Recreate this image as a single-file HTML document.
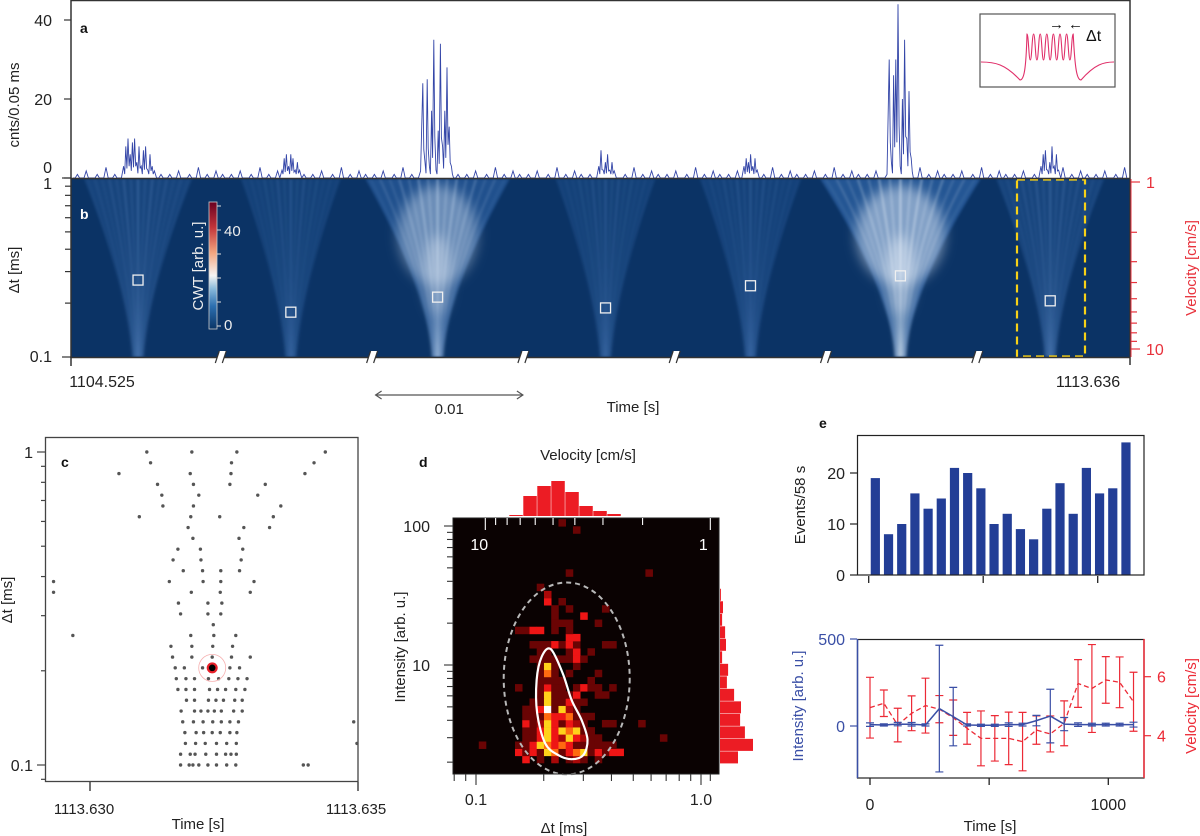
<!DOCTYPE html>
<html><head><meta charset="utf-8">
<style>
html,body{margin:0;padding:0;background:#fff;}
svg{display:block;font-family:"Liberation Sans",Arial,sans-serif;}
</style></head>
<body>
<svg id="fig" width="1200" height="836" viewBox="0 0 1200 836" xmlns="http://www.w3.org/2000/svg">
<defs>
  <linearGradient id="cbar" x1="0" y1="1" x2="0" y2="0">
    <stop offset="0" stop-color="#0b3566"/>
    <stop offset="0.18" stop-color="#2c6fb0"/>
    <stop offset="0.32" stop-color="#8cbcdc"/>
    <stop offset="0.42" stop-color="#f4f4f4"/>
    <stop offset="0.6" stop-color="#f3a57f"/>
    <stop offset="0.8" stop-color="#c2353a"/>
    <stop offset="1" stop-color="#6a0020"/>
  </linearGradient>
  <filter id="blur1" x="-20%" y="-20%" width="140%" height="140%"><feGaussianBlur stdDeviation="1.4"/></filter>
  <filter id="blur3" x="-50%" y="-50%" width="200%" height="200%"><feGaussianBlur stdDeviation="6"/></filter>
  <clipPath id="clipB"><rect x="71" y="179" width="1059" height="178"/></clipPath>
  <clipPath id="clipA"><rect x="71" y="0" width="1059" height="179"/></clipPath>
</defs>
<g id="panelA"></g>
<g id="panelB"></g>
<g id="panelC"></g>
<g id="panelD"></g>
<g id="panelE"></g>
</svg>
<script>
// ---------- data: panels a/b ----------
const segWidthS = 0.01;
const evOffsetS = [0.00443,0.00453,0.00423,0.00533,0.00491,0.00482,0.00472];
const evPeakDt = [0.269,0.178,0.216,0.188,0.250,0.284,0.206];
const evStrength = [0.30,0.20,0.75,0.20,0.22,0.95,0.30];
const ev1Counts = [3,8,10,6,9,10,4,8,3,7,8,2,6,3];
const ev2Counts = [2,5,6,3,6,5,2,4,2];
const ev3Counts = [24,4,25,3,17,35,2,12,34,8,17,28,10,13,3];
const ev4Counts = [3,7,2,4,6,5,2,4];
const ev5Counts = [3,5,2,4,6,3,5,2];
const ev6Counts = [30,4,26,30,44,3,20,35,25,10,22,5];
const ev7Counts = [3,6,7,2,4,8,3,6,2];
const noiseCounts = [0,0,1,0,0,0,2,0,0,0,0,1,0,0,0,3,0,0,0,1,0,0,0,2,0,0,1,0];
const aTicks = [0,20,40];
const bTicks = [0.1,1];
const velTicks = [1,10];
const cbTicks = [0,40];

// ---------- data: panel c ----------
const cRowsDt = [];
const cRowTimesUs = [
 [1060,1900,2740,4390],
 [1130,2640,4180],
 [540,1870,2630,4010],
 [1260,1930,2610,3270],
 [1340,2030,3130],
 [1360,1930,3560],
 [920,1880,2420,3420],
 [1830,2870,3350],
 [1920,2780],
 [1640,2060,2850],
 [1550,2070,2820],
 [1740,2100,2440,2790],
 [-680,1480,2110,2440,3060],
 [-680,1890,2430,2990],
 [1650,2200,2460],
 [1690,2200,2440],
 [2300],
 [-320,1880,2310,2720],
 [1510,1900,2290,2660],
 [1540,1900,2280,2640,2990],
 [1590,1760,2100,2610,2790],
 [1610,1790,1950,2210,2400,2590,2760,2930],
 [1640,1790,1950,2230,2380,2530,2720,2890],
 [1800,1950,2210,2350,2490,2700,2840],
 [1700,1950,2070,2200,2320,2450,2680,2840],
 [1730,1930,2110,2290,2450,2610,2770,4920],
 [1770,1980,2120,2280,2430,2610,2740],
 [1780,1970,2150,2360,2550,2730,4980],
 [1690,1870,1960,2160,2360,2530,2630,2730],
 [1690,1850,1920,2030,2200,2360,2550,2720,3980,4070]
];
const cHighlightRow = 20, cHighlightUs = 2280;
const cXTicks = ["1113.630","1113.635"];

// ---------- data: panel d ----------
const dHeatRows = [
 "030102012101000",
 "313154134513133",
 "113543431111110",
 "011353253211000",
 "011353545110000",
 "031253132100110",
 "011143341110000",
 "011361521000000",
 "001151131100000",
 "000151113001100",
 "100131101311010",
 "000111100010000",
 "000141010001000",
 "000151001000000",
 "001111113100000",
 "000110013010000",
 "001113131000110",
 "000000033000000",
 "113301010000000",
 "000001110001000",
 "000001000300000",
 "000001010000100",
 "000030100000000",
 "000020000000000",
 "000100000000000"
];
const dOutliers = [[-5,2,1],[20,3,1],[17,5,1],[18,26,1],[7,26,1],[6,33,1],[8,32,1]];
const dTopHist = [1,20,30,35,24,10,5,2];
const dRightHist = [6,11,8.3,6.7,7,4.7,2.3,2.7,0.7,2,1.7,0.7,1,0.3];
const dContourDt = [0.215,0.243,0.266,0.295,0.313,0.300,0.266,0.232,0.203,0.187,0.186,0.196];
const dContourI = [13.0,8.7,5.6,4.0,2.9,2.25,2.10,2.25,2.73,4.5,7.8,11.5];
const dEllipse = {dt:0.253, I:8.0};
const dYTicks = [10,100];
const dXTicks = [0.1,1.0];
const dVelTicks = [10,1];

// ---------- data: panel e ----------
const eBarCounts = [19,8,10,16,13,15,21,20,17,10,12,9,7,13,18,12,21,16,17,26];
const eIntensity = [8,6,11,10,6,100,54,6,4,4,8,8,31,57,11,8,8,8,8,8];
const eIntensityErr = [10,6,10,10,6,364,168,6,6,6,10,8,30,154,38,10,8,8,8,14];
const eVelocity = [4.95,5.10,4.36,4.76,5.02,4.90,4.61,4.25,3.91,3.91,3.91,3.80,4.19,4.06,4.42,5.77,5.60,5.89,5.81,5.15];
const eVelocityErr = [1.03,0.45,0.57,0.59,0.93,0.46,0.60,0.54,0.93,0.77,0.89,0.99,0.48,0.61,0.76,0.81,1.49,0.79,0.86,1.00];
const eBarTicks = [0,500,1000];
const eXTicks = [0,1000];
const eYTicks = [0,10,20];

// ---------- helpers ----------
const NS="http://www.w3.org/2000/svg";
function mk(parent,tag,attrs,text){
  const e=document.createElementNS(NS,tag);
  for(const k in attrs) e.setAttribute(k,attrs[k]);
  if(text!==undefined) e.textContent=text;
  parent.appendChild(e); return e;
}
const L=Math.log10;

// ================= PANEL A =================
const gA=document.getElementById('panelA');
const segX0=71, segPx=151.3;
function xAB(seg,offS){return segX0+seg*segPx+offS/segWidthS*segPx;}
function ya(v){return 178-v*3.95;}
let el;
el=mk(gA,'line',{x1:71,y1:0,x2:71,y2:179,stroke:'#333','stroke-width':1.5});

el=mk(gA,'line',{x1:71,y1:0.5,x2:1130,y2:0.5,stroke:'#333','stroke-width':1.5});

el=mk(gA,'line',{x1:1130,y1:0,x2:1130,y2:179,stroke:'#333','stroke-width':1.5});

aTicks.forEach(t=>{
  const y=ya(t);
  el=mk(gA,'line',{x1:64,y1:y,x2:71,y2:y,stroke:'#333','stroke-width':1.2});
  
  el=mk(gA,'text',{x:52,y:(t===0?y-5:y+6),'font-size':16,'text-anchor':'end',fill:'#222'},String(t));
  
});
el=mk(gA,'text',{x:0,y:0,'font-size':15,'text-anchor':'middle',fill:'#222',transform:'translate(19,105) rotate(-90)'},'cnts/0.05 ms');

el=mk(gA,'text',{x:80,y:33,'font-size':14,'font-weight':'bold',fill:'#111'},'a');

const evCounts=[ev1Counts,ev2Counts,ev3Counts,ev4Counts,ev5Counts,ev6Counts,ev7Counts];
let pts=[];
let ni=0;
for(let x=73;x<1128;x+=2.2){
  let inEv=false;
  for(let i=0;i<7;i++){
    const cx=xAB(i,evOffsetS[i]);
    const arr=evCounts[i];
    const w=arr.length*2.1;
    const x0=cx-w/2;
    if(x>=x0 && x<x0+w){
      const k=Math.floor((x-x0)/2.1);
      pts.push([x,ya(arr[k])]);
      pts.push([x+1.05,ya(Math.max(1,arr[k]*0.3))]);
      inEv=true;break;
    }
  }
  if(!inEv){ pts.push([x,ya(noiseCounts[ni%noiseCounts.length]*0.9)]); ni++; }
}
el=mk(gA,'polyline',{points:pts.map(p=>p[0].toFixed(1)+','+p[1].toFixed(1)).join(' '),fill:'none',stroke:'#3446a8','stroke-width':0.9,'clip-path':'url(#clipA)'});

const inset=mk(gA,'g',{});

mk(inset,'rect',{x:980,y:14,width:135,height:73,fill:'#fff',stroke:'#555','stroke-width':1.2});
let ip='M981,62 C995,62 1005,64 1020,80 C1024,80 1026,70 1027,34';
for(let k=0;k<7;k++){const x=1027+k*6.6; ip+=` C${x+1.5},34 ${x+1.8},60 ${x+3.3},60 C${x+4.8},60 ${x+5.1},34 ${x+6.6},34`;}
ip+=' C1075,70 1077,80 1081,80 C1095,64 1104,62 1114,62';
mk(inset,'path',{d:ip,fill:'none',stroke:'#e0306a','stroke-width':1.1});
mk(inset,'text',{x:1049,y:29,'font-size':15,fill:'#111'},'→');
mk(inset,'text',{x:1068,y:29,'font-size':15,fill:'#111'},'←');
el=mk(inset,'text',{x:1086,y:41,'font-size':16,fill:'#111'},'Δt');


// ================= PANEL B =================
const gB=document.getElementById('panelB');
function yb(dt){return 357-(L(dt)+1)*179;}
function yv(v){return 182+L(v)*167;}
el=mk(gB,'rect',{x:71,y:179,width:1059,height:178,fill:'#0b3365'});

const fans=mk(gB,'g',{'clip-path':'url(#clipB)'});

for(let i=0;i<7;i++){
  const cx=xAB(i,evOffsetS[i]);
  const s=evStrength[i];
  const W=42+40*s;
  const g=mk(fans,'g',{});
  
  mk(g,'path',{d:`M${cx-W},179 Q${cx-10},290 ${cx-5},357 L${cx+5},357 Q${cx+10},290 ${cx+W},179 Z`,fill:`rgba(60,120,195,${0.12+0.4*s})`,filter:'url(#blur1)'});
  const bl=mk(g,'g',{filter:'url(#blur1)'});
  for(let k=-7;k<=7;k++){
    const xb=cx+k*0.9, xt=cx+k*W/7.5;
    const a=(0.10+0.5*s)*(1-Math.abs(k)/9)*(k%2===0?1:0.6);
    mk(bl,'path',{d:`M${xb},357 Q${cx+k*1.6},${300-20*s} ${xt},179`,fill:'none',stroke:`rgba(${110+140*s},${170+85*s},255,${a})`,'stroke-width':1.8});
  }
  if(s>0.5){
    mk(g,'ellipse',{cx:cx,cy:235,rx:W*0.55,ry:50,fill:`rgba(235,245,255,${0.5*s})`,filter:'url(#blur3)'});
    mk(g,'ellipse',{cx:cx,cy:275,rx:14,ry:40,fill:`rgba(245,250,255,${0.45*s})`,filter:'url(#blur3)'});
  }
  el=mk(gB,'rect',{x:xAB(i,evOffsetS[i])-5,y:yb(evPeakDt[i])-5,width:10,height:10,fill:'none',stroke:'#f0f0f0','stroke-width':1.3});
  
}
el=mk(gB,'rect',{x:1017,y:179.5,width:68,height:177,fill:'none',stroke:'#f7d117','stroke-width':2.2,'stroke-dasharray':'8,5'});

el=mk(gB,'line',{x1:71,y1:178.5,x2:1130,y2:178.5,stroke:'#333','stroke-width':1.5});

el=mk(gB,'line',{x1:71,y1:179,x2:71,y2:358,stroke:'#333','stroke-width':1.5});

el=mk(gB,'line',{x1:71,y1:357.5,x2:1130,y2:357.5,stroke:'#333','stroke-width':1.5});

for(let d=1;d<=10;d++){
  const v=d/10, y=yb(v);
  const major=(d===1||d===10);
  el=mk(gB,'line',{x1:major?62:65,y1:y,x2:71,y2:y,stroke:'#333','stroke-width':1.2});
  
}
bTicks.forEach(t=>{
  el=mk(gB,'text',{x:52,y:yb(t)+(t===1?11:5),'font-size':16,'text-anchor':'end',fill:'#222'},String(t));
  
});
el=mk(gB,'text',{x:0,y:0,'font-size':15,'text-anchor':'middle',fill:'#222',transform:'translate(19,270) rotate(-90)'},'Δt [ms]');

el=mk(gB,'text',{x:80,y:219,'font-size':14,'font-weight':'bold',fill:'#fff'},'b');

el=mk(gB,'line',{x1:1130,y1:179,x2:1130,y2:365,stroke:'#333','stroke-width':1.5});

for(let v=1;v<=10;v++){
  const y=yv(v);
  el=mk(gB,'line',{x1:1131,y1:y,x2:(v===1||v===10)?1140:1137,y2:y,stroke:'#e8323c','stroke-width':1.2});
  
}
el=mk(gB,'line',{x1:1131,y1:179,x2:1131,y2:357,stroke:'#e8323c','stroke-width':1});

velTicks.forEach(v=>{
  el=mk(gB,'text',{x:1146,y:yv(v)+6,'font-size':16,fill:'#e8323c'},String(v));
  
});
el=mk(gB,'text',{x:0,y:0,'font-size':15,'text-anchor':'middle',fill:'#e8323c',transform:'translate(1196,268) rotate(-90)'},'Velocity [cm/s]');

for(let i=1;i<7;i++){
  const x=segX0+i*segPx;
  const g=mk(gB,'g',{});
  
  mk(g,'polygon',{points:`${x-7},363 ${x-3},351 ${x+4},351 ${x},363`,fill:'#fff'});
  mk(g,'line',{x1:x-7,y1:363,x2:x-3,y2:351,stroke:'#333','stroke-width':1.2});
  mk(g,'line',{x1:x,y1:363,x2:x+4,y2:351,stroke:'#333','stroke-width':1.2});
}
el=mk(gB,'line',{x1:71,y1:357,x2:71,y2:366,stroke:'#333','stroke-width':1.5});

el=mk(gB,'text',{x:102,y:387,'font-size':16,'text-anchor':'middle',fill:'#222'},'1104.525');

el=mk(gB,'text',{x:1088,y:387,'font-size':16,'text-anchor':'middle',fill:'#222'},'1113.636');

const scaleBar=mk(gB,'g',{});

const sx0=segX0+2*segPx, sx1=segX0+3*segPx;
mk(scaleBar,'line',{x1:sx0+2,y1:395,x2:sx1-2,y2:395,stroke:'#555','stroke-width':1.2});
mk(scaleBar,'path',{d:`M${sx0+8},391 L${sx0+2},395 L${sx0+8},399 M${sx1-8},391 L${sx1-2},395 L${sx1-8},399`,fill:'none',stroke:'#555','stroke-width':1.2});
mk(scaleBar,'text',{x:(sx0+sx1)/2,y:414,'font-size':15,'text-anchor':'middle',fill:'#222'},'0.01');
el=mk(gB,'text',{x:633,y:412,'font-size':15,'text-anchor':'middle',fill:'#222'},'Time [s]');

const cb=mk(gB,'g',{});

mk(cb,'rect',{x:209,y:202,width:8,height:127,fill:'url(#cbar)',stroke:'#ccc','stroke-width':0.8});
function ycb(v){return 326-v*2.4;}
for(let v=0;v<=50;v+=10){mk(cb,'line',{x1:217,y1:ycb(v),x2:221,y2:ycb(v),stroke:'#ddd','stroke-width':1});}
cbTicks.forEach(v=>{
  el=mk(cb,'text',{x:224,y:ycb(v)+(v===0?4:6),'font-size':15,fill:'#eee'},String(v));
  
});
el=mk(cb,'text',{x:0,y:0,'font-size':15,'text-anchor':'middle',fill:'#eee',transform:'translate(203,266) rotate(-90)'},'CWT [arb. u.]');


// ================= PANEL C =================
const gC=document.getElementById('panelC');
function xc(us){return 90+us/1000*53.6;}
function yc(dt){return 765-(L(dt)+1)*313;}
for(let r=0;r<cRowTimesUs.length;r++) cRowsDt.push(Math.pow(10,-r/29));
el=mk(gC,'rect',{x:45.5,y:437.5,width:312.5,height:344,fill:'#fff',stroke:'#444','stroke-width':1.3});

cRowTimesUs.forEach((row,r)=>{
  row.forEach(us=>{
    el=mk(gC,'circle',{cx:xc(us),cy:yc(cRowsDt[r]),r:1.7,fill:'#555'});
    
  });
});
const hl=mk(gC,'g',{});

mk(hl,'circle',{cx:xc(cHighlightUs),cy:yc(cRowsDt[cHighlightRow]),r:13.5,fill:'none',stroke:'#f6b0b0','stroke-width':0.8});
mk(hl,'circle',{cx:xc(cHighlightUs),cy:yc(cRowsDt[cHighlightRow]),r:5.5,fill:'#e8202a'});
mk(hl,'circle',{cx:xc(cHighlightUs),cy:yc(cRowsDt[cHighlightRow]),r:3.3,fill:'#000'});
for(let d=1;d<=10;d++){
  const y=yc(d/10);
  el=mk(gC,'line',{x1:(d===1||d===10)?37:41,y1:y,x2:45,y2:y,stroke:'#444','stroke-width':1.2});
  
}
el=mk(gC,'line',{x1:41,y1:yc(0.09),x2:45,y2:yc(0.09),stroke:'#444','stroke-width':1.2});

[[1,'1'],[0.1,'0.1']].forEach(([v,s])=>{
  el=mk(gC,'text',{x:33,y:yc(v)+6,'font-size':16,'text-anchor':'end',fill:'#222'},s);
  
});
cXTicks.forEach((s,i)=>{
  const x=xc(i*5000);
  el=mk(gC,'line',{x1:x,y1:782,x2:x,y2:791,stroke:'#444','stroke-width':1.5});
  
  el=mk(gC,'text',{x:i===0?84:356,y:814,'font-size':15,'text-anchor':'middle',fill:'#222'},s);
  
});
el=mk(gC,'text',{x:198,y:829,'font-size':15,'text-anchor':'middle',fill:'#222'},'Time [s]');

el=mk(gC,'text',{x:0,y:0,'font-size':15,'text-anchor':'middle',fill:'#222',transform:'translate(12,600) rotate(-90)'},'Δt [ms]');

el=mk(gC,'text',{x:61,y:467,'font-size':14,'font-weight':'bold',fill:'#111'},'c');


// ================= PANEL D =================
const gD=document.getElementById('panelD');
function xd(dt){return 476+(L(dt)+1)*225;}
function yd(I){return 665-(L(I)-1)*139;}
const colLog0=-0.8267, colW=0.0322, rowLog0=0.295, rowH=0.0516;
const heatColors=['none','#6a0404','#a80808','#ee1515','#ff6a10','#ffd21a','#ffffff'];
el=mk(gD,'rect',{x:453,y:518,width:266,height:256,fill:'#0a0202'});

const heat=mk(gD,'g',{});

function cell(c,r,v){
  const x0=xd(Math.pow(10,colLog0+c*colW)), x1=xd(Math.pow(10,colLog0+(c+1)*colW));
  const y0=yd(Math.pow(10,rowLog0+(r+1)*rowH)), y1=yd(Math.pow(10,rowLog0+r*rowH));
  const e=mk(heat,'rect',{x:x0,y:y0,width:x1-x0+0.3,height:y1-y0+0.3,fill:heatColors[v]});
  
}
dHeatRows.forEach((row,r)=>{for(let c=0;c<row.length;c++){const v=+row[c]; if(v>0) cell(c,r,v);}});
dOutliers.forEach(o=>cell(o[0],o[1],o[2]));
el=mk(gD,'ellipse',{cx:xd(dEllipse.dt),cy:yd(dEllipse.I),rx:63,ry:96,fill:'none',stroke:'#b8b8b8','stroke-width':2,'stroke-dasharray':'5,4'});

let cp=dContourDt.map((d,i)=>[xd(d),yd(dContourI[i])]);
let cd='M'+cp[0].join(',');
for(let i=0;i<cp.length;i++){
  const p0=cp[(i-1+cp.length)%cp.length],p1=cp[i],p2=cp[(i+1)%cp.length],p3=cp[(i+2)%cp.length];
  const c1=[p1[0]+(p2[0]-p0[0])/6,p1[1]+(p2[1]-p0[1])/6], c2=[p2[0]-(p3[0]-p1[0])/6,p2[1]-(p3[1]-p1[1])/6];
  cd+=` C${c1.join(',')} ${c2.join(',')} ${p2.join(',')}`;
}
el=mk(gD,'path',{d:cd+'Z',fill:'none',stroke:'#fff','stroke-width':2.2});

el=mk(gD,'rect',{x:453,y:518,width:266,height:256,fill:'none',stroke:'#222','stroke-width':1});

const thLog0=-0.852, thW=0.0622;
dTopHist.forEach((v,i)=>{
  const x0=xd(Math.pow(10,thLog0+i*thW)), x1=xd(Math.pow(10,thLog0+(i+1)*thW));
  el=mk(gD,'rect',{x:x0,y:516-v,width:x1-x0-0.5,height:v,fill:'#ec1c24'});
  
});
const rhLog0=0.2885, rhH=0.09;
dRightHist.forEach((v,i)=>{
  const y0=yd(Math.pow(10,rhLog0+(i+1)*rhH)), y1=yd(Math.pow(10,rhLog0+i*rhH));
  el=mk(gD,'rect',{x:720,y:y0,width:v*3,height:y1-y0-0.5,fill:'#ec1c24'});
  
});
[2,3,4,5,6,7,8,9,10,20,30,40,50,60,70,80,90,100].forEach(v=>{
  const y=yd(v); if(y<518||y>775) return;
  const major=(v===10||v===100);
  el=mk(gD,'line',{x1:major?444:447,y1:y,x2:453,y2:y,stroke:'#333','stroke-width':1.1});
  
});
dYTicks.forEach(v=>{
  el=mk(gD,'text',{x:430,y:yd(v)+6,'font-size':16,'text-anchor':'end',fill:'#222'},String(v));
  
});
[0.08,0.09,0.1,0.2,0.3,0.4,0.5,0.6,0.7,0.8,0.9,1.0,1.1].forEach(v=>{
  const x=xd(v); if(x<453||x>719) return;
  const major=(Math.abs(v-0.1)<1e-6||Math.abs(v-1)<1e-6);
  el=mk(gD,'line',{x1:x,y1:774,x2:x,y2:major?785:781,stroke:'#333','stroke-width':1.1});
  
});
dXTicks.forEach(v=>{
  el=mk(gD,'text',{x:xd(v),y:805,'font-size':16,'text-anchor':'middle',fill:'#222'},v.toFixed(1));
  
});
[1,2,3,4,5,6,7,8,9,10].forEach(v=>{
  const x=xd(1.1/v); if(x<453||x>719) return;
  el=mk(gD,'line',{x1:x,y1:518,x2:x,y2:(v===1||v===10)?530:525,stroke:'#fff','stroke-width':1.1});
  
});
dVelTicks.forEach(v=>{
  el=mk(gD,'text',{x:xd(1.1/v)+(v===10?-6:-7),y:550,'font-size':16,'text-anchor':'middle',fill:'#fff'},String(v));
  
});
el=mk(gD,'text',{x:588,y:460,'font-size':15,'text-anchor':'middle',fill:'#222'},'Velocity [cm/s]');

el=mk(gD,'text',{x:564,y:833,'font-size':15,'text-anchor':'middle',fill:'#222'},'Δt [ms]');

el=mk(gD,'text',{x:0,y:0,'font-size':15,'text-anchor':'middle',fill:'#222',transform:'translate(405,647) rotate(-90)'},'Intensity [arb. u.]');

el=mk(gD,'text',{x:419,y:467,'font-size':14,'font-weight':'bold',fill:'#111'},'d');


// ================= PANEL E =================
const gE=document.getElementById('panelE');
el=mk(gE,'text',{x:819,y:428,'font-size':14,'font-weight':'bold',fill:'#111'},'e');

function xeb(t){return 868.7+t*0.229;}
function yeb(v){return 575-v*5.1;}
eBarCounts.forEach((v,i)=>{
  const t=29+57.6*i;
  el=mk(gE,'rect',{x:xeb(t)-4.6,y:yeb(v),width:9.2,height:575-yeb(v),fill:'#233e96'});
  
});
el=mk(gE,'rect',{x:857.5,y:435.5,width:286.5,height:139.5,fill:'none',stroke:'#222','stroke-width':1.2});

eYTicks.forEach(v=>{
  el=mk(gE,'line',{x1:850,y1:yeb(v),x2:857,y2:yeb(v),stroke:'#222','stroke-width':1.2});
  
  el=mk(gE,'text',{x:845,y:yeb(v)+6,'font-size':16,'text-anchor':'end',fill:'#222'},String(v));
  
});
eBarTicks.forEach(t=>{
  el=mk(gE,'line',{x1:xeb(t),y1:576,x2:xeb(t),y2:583,stroke:'#222','stroke-width':1.3});
  
});
el=mk(gE,'text',{x:0,y:0,'font-size':15,'text-anchor':'middle',fill:'#222',transform:'translate(805,505) rotate(-90)'},'Events/58 s');

function xe(t){return 870+t*0.2383;}
function yI(v){return 726-v*0.174;}
function yV(v){return 735.7-(v-4)*29.5;}
el=mk(gE,'rect',{x:857.5,y:639.5,width:286.5,height:138.5,fill:'none',stroke:'#222','stroke-width':1.2});

el=mk(gE,'line',{x1:857.5,y1:639,x2:857.5,y2:778,stroke:'#3a4fa6','stroke-width':1.5});

el=mk(gE,'line',{x1:1144,y1:639,x2:1144,y2:778,stroke:'#ec2a36','stroke-width':1.5});

[0,500].forEach(v=>{
  el=mk(gE,'line',{x1:850,y1:yI(v),x2:857,y2:yI(v),stroke:'#3a4fa6','stroke-width':1.2});
  
  el=mk(gE,'text',{x:845,y:yI(v)+6,'font-size':16,'text-anchor':'end',fill:'#3a4fa6'},String(v));
  
});
[4,6].forEach(v=>{
  el=mk(gE,'line',{x1:1144,y1:yV(v),x2:1151,y2:yV(v),stroke:'#ec2a36','stroke-width':1.2});
  
  el=mk(gE,'text',{x:1157,y:yV(v)+6,'font-size':16,fill:'#ec2a36'},String(v));
  
});
[0,500,1000].forEach(t=>{
  el=mk(gE,'line',{x1:xe(t),y1:778,x2:xe(t),y2:785,stroke:'#222','stroke-width':1.3});
  
});
eXTicks.forEach(t=>{
  el=mk(gE,'text',{x:xe(t),y:810,'font-size':16,'text-anchor':'middle',fill:'#222'},String(t));
  
});
el=mk(gE,'text',{x:990,y:831,'font-size':15,'text-anchor':'middle',fill:'#222'},'Time [s]');

el=mk(gE,'text',{x:0,y:0,'font-size':15,'text-anchor':'middle',fill:'#3a4fa6',transform:'translate(803,706) rotate(-90)'},'Intensity [arb. u.]');

el=mk(gE,'text',{x:0,y:0,'font-size':15,'text-anchor':'middle',fill:'#ec2a36',transform:'translate(1196,706) rotate(-90)'},'Velocity [cm/s]');

const tE=eVelocity.map((_,i)=>58.2*i);
eVelocity.forEach((v,i)=>{
  const x=xe(tE[i]), e=eVelocityErr[i];
  el=mk(gE,'path',{d:`M${x},${yV(v+e)} V${yV(v-e)} M${x-4},${yV(v+e)} H${x+4} M${x-4},${yV(v-e)} H${x+4}`,stroke:'#ec2a36','stroke-width':1.2,fill:'none'});
  
});
el=mk(gE,'polyline',{points:eVelocity.map((v,i)=>xe(tE[i])+','+yV(v)).join(' '),fill:'none',stroke:'#ec2a36','stroke-width':1.3,'stroke-dasharray':'5,3'});

eIntensity.forEach((v,i)=>{
  const x=xe(tE[i]), e=eIntensityErr[i];
  el=mk(gE,'path',{d:`M${x},${yI(v+e)} V${yI(v-e)} M${x-4},${yI(v+e)} H${x+4} M${x-4},${yI(v-e)} H${x+4}`,stroke:'#3a4fa6','stroke-width':1.2,fill:'none'});
  
});
el=mk(gE,'polyline',{points:eIntensity.map((v,i)=>xe(tE[i])+','+yI(v)).join(' '),fill:'none',stroke:'#3a4fa6','stroke-width':1.5});

</script>
</body></html>
